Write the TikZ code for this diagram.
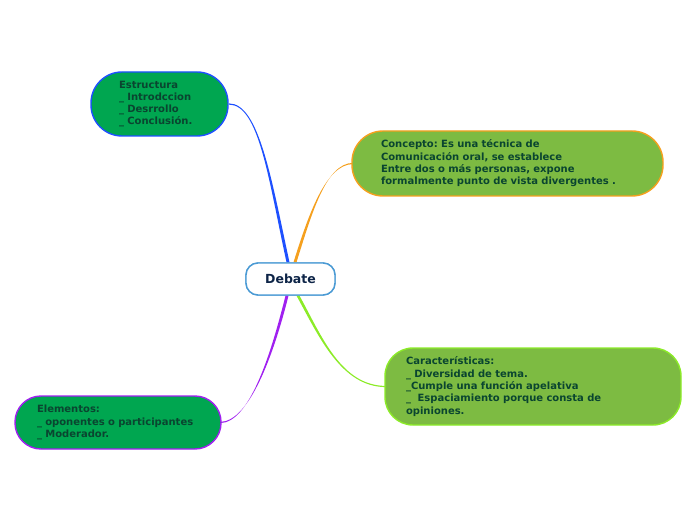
\documentclass[tikz,border=0pt]{standalone}
\usepackage{fontspec}
\setmainfont{DejaVu Sans}
\usetikzlibrary{positioning}
\frenchspacing

\definecolor{darkgreen}{HTML}{00A650}
\definecolor{lightgreen}{HTML}{7DBB42}
\definecolor{txtgreen}{HTML}{0A4530}
\definecolor{navy}{HTML}{0D2447}
\definecolor{rootline}{HTML}{4A9AD4}
\definecolor{bluebranch}{HTML}{1E50FF}
\definecolor{orangebranch}{HTML}{F5A01E}
\definecolor{limebranch}{HTML}{8CEB28}
\definecolor{purplebranch}{HTML}{A020F0}

\begin{document}
\begin{tikzpicture}[x=1pt, y=1pt,
  topic/.style={draw, line width=1.4pt, inner xsep=0pt, inner ysep=2pt, align=left, text=txtgreen,
    font=\fontsize{10}{12.3}\selectfont\bfseries},
  root/.style={draw=rootline, fill=white, line width=1.4pt, rounded corners=12pt, minimum width=89pt,
    minimum height=32pt, text=navy, font=\fontsize{12.5}{14}\selectfont\bfseries}
]
  \useasboundingbox (0,0) rectangle (696,520);

  \node[root] (debate) at (290.5,241) {Debate};

  \coordinate (estructuraend) at (229,416);
  \coordinate (conceptoend) at (353,356.5);
  \coordinate (caracend) at (386,133.5);
  \coordinate (elementosend) at (220,97.5);

  % branches, thick at the root and thin at the topic
  \fill[bluebranch] ([xshift=-4]debate.north) .. controls +(-18,83) and +(30,0) .. ([yshift=-0.6]estructuraend)
    -- ([yshift=0.6]estructuraend) .. controls +(30,0) and +(-18,83) .. ([xshift=-1]debate.north) -- cycle;
  \fill[orangebranch] ([xshift=3]debate.north) .. controls +(15,48) and +(-27,0) .. ([yshift=-0.6]conceptoend)
    -- ([yshift=0.6]conceptoend) .. controls +(-27,0) and +(15,48) .. ([xshift=6]debate.north) -- cycle;
  \fill[limebranch] ([xshift=6]debate.south) .. controls +(22,-40) and +(-45,0) .. ([yshift=-0.6]caracend)
    -- ([yshift=0.6]caracend) .. controls +(-45,0) and +(22,-40) .. ([xshift=9]debate.south) -- cycle;
  \fill[purplebranch] ([xshift=-5]debate.south) .. controls +(-15,-60) and +(29,0) .. ([yshift=-0.6]elementosend)
    -- ([yshift=0.6]elementosend) .. controls +(29,0) and +(-15,-60) .. ([xshift=-2]debate.south) -- cycle;

  \node[root] at (debate) {Debate};

  \node[topic, draw=bluebranch, fill=darkgreen, rounded corners=31pt, minimum width=137pt, minimum height=64pt,
    text width=81pt] (estructura) at (159.5,416) {Estructura\\\_ Introdccion\\\_ Desrrollo\\\_ Conclusión.};
  \node[topic, draw=orangebranch, fill=lightgreen, rounded corners=31pt, minimum width=311pt, minimum height=65pt,
    text width=253pt] (concepto) at (507.5,356.5) {Concepto: Es una técnica de\\Comunicación oral, se establece\\Entre dos o más personas, expone\\formalmente punto de vista divergentes .};
  \node[topic, draw=limebranch, fill=lightgreen, rounded corners=28pt, minimum width=296pt, minimum height=77pt,
    text width=254pt] (caracteristicas) at (533,133.5) {Características:\\\_ Diversidad de tema.\\\_Cumple una función apelativa\\\_\ \ Espaciamiento porque consta de\\opiniones.};
  \node[topic, draw=purplebranch, fill=darkgreen, rounded corners=26pt, minimum width=206pt, minimum height=53pt,
    text width=162pt] (elementos) at (118,97.5) {Elementos:\\\_ oponentes o participantes\\\_ Moderador.};
\end{tikzpicture}
\end{document}
